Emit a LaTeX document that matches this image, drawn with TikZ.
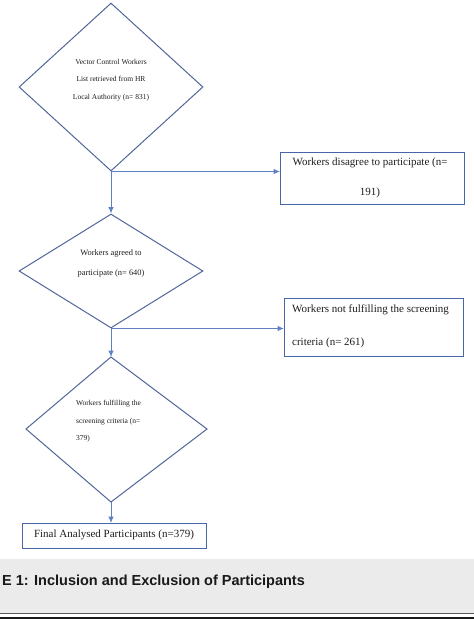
\documentclass[tikz,border=0pt]{standalone}
\usepackage{fontspec}
\setmainfont{Liberation Serif}
\newfontfamily\capfont{Liberation Sans}
\usetikzlibrary{shapes.geometric,arrows.meta}
\definecolor{dstroke}{HTML}{52669A}
\definecolor{cstroke}{HTML}{5F80C4}
\definecolor{bstroke}{HTML}{4666A8}
\definecolor{txt}{HTML}{1E1E1E}
\definecolor{band}{HTML}{EBEBEB}
\tikzset{
  dshape/.style={diamond, draw=dstroke, line width=1pt, inner sep=0pt, aspect=1},
  boxnode/.style={draw=bstroke, line width=1.3pt, inner sep=0pt, anchor=north west},
  conn/.style={draw=cstroke, line width=1pt},
  arr/.style={conn, -{Latex[length=6.5pt,width=5.5pt]}},
  dtext/.style={text=txt, font=\fontsize{7.5}{17.5}\selectfont, inner sep=0pt},
  btext/.style={text=txt, font=\fontsize{11}{30}\selectfont, inner sep=0pt},
}
\begin{document}
\begin{tikzpicture}[x=1pt,y=-1pt]
\useasboundingbox (0,0) rectangle (474,619);
\fill[white] (0,0) rectangle (474,619);

% diamonds
\node[dshape, minimum width=184pt, minimum height=168pt] (d1) at (111,87) {};
\node[dtext, align=center] (t1) at (111,80) {Vector Control Workers\\List retrieved from HR\\Local Authority (n= 831)};

\node[dshape, minimum width=184pt, minimum height=114pt] (d2) at (111,271) {};
\node[dtext, align=center, font=\fontsize{8.4}{20}\selectfont] (t2) at (111,263) {Workers agreed to\\participate (n= 640)};

\coordinate (d3t) at (111,357);
\coordinate (d3r) at (207,429);
\coordinate (d3b) at (111,502);
\coordinate (d3l) at (26,429);
\draw[draw=dstroke, line width=1pt] (d3t) -- (d3r) -- (d3b) -- (d3l) -- cycle;
\node[dtext, align=left, anchor=west] (t3) at (76,421.5) {Workers fulfilling the\\screening criteria (n=\\379)};

% boxes
\node[boxnode, minimum width=184pt, minimum height=52pt] (b1) at (280,152) {};
\node[btext, align=center] (tb1) at (370,178) {Workers disagree to participate (n=\\191)};

\node[boxnode, minimum width=179pt, minimum height=58pt] (b2) at (284,298) {};
\node[btext, align=left, anchor=west, font=\fontsize{11}{33}\selectfont] (tb2) at (292,326.5) {Workers not fulfilling the screening\\criteria (n= 261)};

\node[boxnode, minimum width=184pt, minimum height=25pt] (b3) at (22,523) {};
\node[btext] (tb3) at (114,535) {Final Analysed Participants (n=379)};

% connectors
\draw[arr] (d1.south) -- (b1.west |- d1.south);
\draw[arr] (d1.south) -- (d2.north);
\draw[arr] (d2.south) -- (b2.west |- d2.south);
\draw[arr] (d2.south) -- (d3t);
\draw[arr] (d3b) -- (b3.north -| d3b);

% caption band
\fill[band] (0,559) rectangle (474,613);
\draw[draw=gray!70!black, line width=0.8pt] (0,613.8) -- (474,613.8);
\fill[black!90] (0,616.5) rectangle (474,619);
\node[anchor=west, inner sep=0pt, text=black!90, font=\capfont\bfseries\fontsize{14.5}{16}\selectfont] (cap) at (2,582) {E 1: Inclusion and Exclusion of Participants};
\end{tikzpicture}
\end{document}
